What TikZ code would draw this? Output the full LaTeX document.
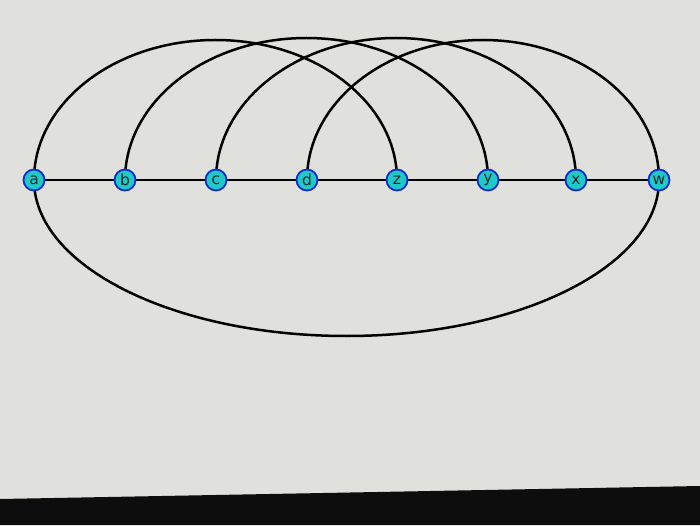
\documentclass[tikz,border=0pt]{standalone}
\usepackage{fontspec}
\setsansfont{DejaVu Sans}
\definecolor{bggray}{RGB}{224,224,221}
\definecolor{nodefill}{RGB}{32,200,200}
\definecolor{nodeline}{RGB}{20,45,200}
\definecolor{labeltext}{RGB}{15,45,45}
\pgfdeclarelayer{bglayer}
\pgfdeclarelayer{edgelayer}
\pgfsetlayers{bglayer,edgelayer,main}
\begin{document}
\begin{tikzpicture}[x=1pt,y=1pt,
  vert/.style={circle,draw=nodeline,fill=nodefill,line width=1.8pt,minimum size=21pt,inner sep=0pt,
    font=\sffamily\fontsize{15.5}{15.5}\selectfont,text=labeltext},
  arcline/.style={draw=black,line width=2.5pt},
  baseline/.style={draw=black,line width=2pt}]
\useasboundingbox (0,0) rectangle (700,525);
\begin{pgfonlayer}{bglayer}
  \fill[bggray] (0,0) rectangle (700,525);
  \fill[black!95] (0,0) -- (0,26) -- (700,39) -- (700,0) -- cycle;
\end{pgfonlayer}
\node[vert] (a) at (34,345) {a};
\node[vert] (b) at (125,345) {b};
\node[vert] (c) at (216,345) {c};
\node[vert] (d) at (307,345) {d};
\node[vert] (z) at (397,345) {z};
\node[vert] (y) at (488,345) {y};
\node[vert] (x) at (576,345) {x};
\node[vert] (w) at (659,345) {w};
\begin{pgfonlayer}{edgelayer}
  \draw[baseline] (a) -- (b) -- (c) -- (d) -- (z) -- (y) -- (x) -- (w);
  \draw[arcline] (a.center) arc[start angle=180,end angle=0,x radius=181.5,y radius=140];
  \draw[arcline] (b.center) arc[start angle=180,end angle=0,x radius=181.5,y radius=142];
  \draw[arcline] (c.center) arc[start angle=180,end angle=0,x radius=180,y radius=142];
  \draw[arcline] (d.center) arc[start angle=180,end angle=0,x radius=176,y radius=140];
  \draw[arcline] (a.center) arc[start angle=180,end angle=360,x radius=312.5,y radius=156];
\end{pgfonlayer}
\end{tikzpicture}
\end{document}
